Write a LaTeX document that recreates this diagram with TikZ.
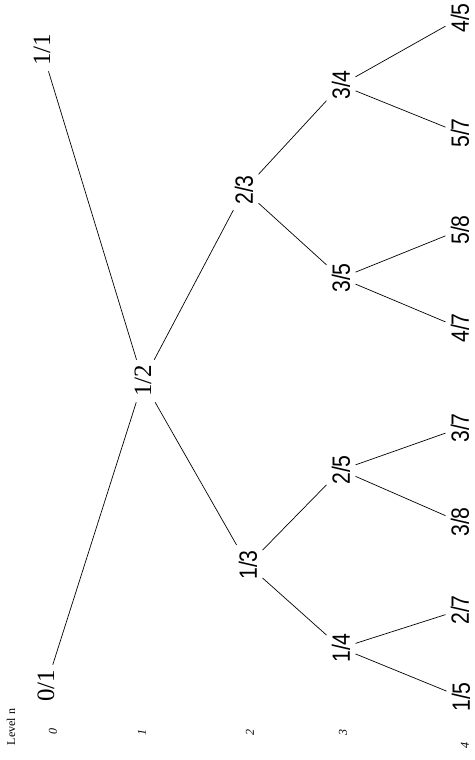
\documentclass[tikz,border=0pt]{standalone}
\usepackage{fontspec}
\setmainfont{Liberation Serif}
\newfontfamily\fracserif{Liberation Serif}
\newfontfamily\fracsans[FakeStretch=0.85]{Liberation Sans}
\begin{document}
\begin{tikzpicture}[x=1pt,y=-1pt,line width=0.7pt,
  frs/.style={rotate=90,inner sep=5pt,font=\fracserif\fontsize{25}{25}\selectfont},
  frc/.style={rotate=90,inner sep=5pt,font=\fracsans\fontsize{25}{25}\selectfont},
  lvl/.style={rotate=90,inner sep=1pt,font=\fracserif\itshape\fontsize{12}{12}\selectfont}]
\useasboundingbox (0,0) rectangle (474,760);
% level 0 and 1
\node[frs] (n01) at (46,686) {0/1};
\node[frs] (n11) at (42,50) {1/1};
\node[frs] (n12) at (143,381) {1/2};
% level 2
\node[frc] (n13) at (248,565) {1/3};
\node[frc] (n23) at (244,190) {2/3};
% level 3
\node[frc] (n14) at (341,648) {1/4};
\node[frc] (n25) at (341,470) {2/5};
\node[frc] (n35) at (341,278) {3/5};
\node[frc] (n34) at (341,85) {3/4};
% level 4
\node[frc] (n15) at (461,697) {1/5};
\node[frc] (n27) at (460,610) {2/7};
\node[frc] (n38) at (460,522) {3/8};
\node[frc] (n37) at (460,428) {3/7};
\node[frc] (n47) at (460,328) {4/7};
\node[frc] (n58) at (460,230) {5/8};
\node[frc] (n57) at (460,133) {5/7};
\node[frc] (n45) at (460,18) {4/5};
% edges
\draw (n01) -- (n12);
\draw (n11) -- (n12);
\draw (n12) -- (n13);
\draw (n12) -- (n23);
\draw (n13) -- (n14);
\draw (n13) -- (n25);
\draw (n23) -- (n35);
\draw (n23) -- (n34);
\draw (n14) -- (n15);
\draw (n14) -- (n27);
\draw (n25) -- (n38);
\draw (n25) -- (n37);
\draw (n35) -- (n47);
\draw (n35) -- (n58);
\draw (n34) -- (n57);
\draw (n34) -- (n45);
% level labels
\node[rotate=90,inner sep=1pt,font=\fracserif\fontsize{12}{12}\selectfont] (lv) at (11,727) {Level n};
\node[lvl] (l0) at (53,731) {0};
\node[lvl] (l1) at (142,732) {1};
\node[lvl] (l2) at (250,732) {2};
\node[lvl] (l3) at (343,732) {3};
\node[lvl] (l4) at (465,745) {4};
\end{tikzpicture}
\end{document}
